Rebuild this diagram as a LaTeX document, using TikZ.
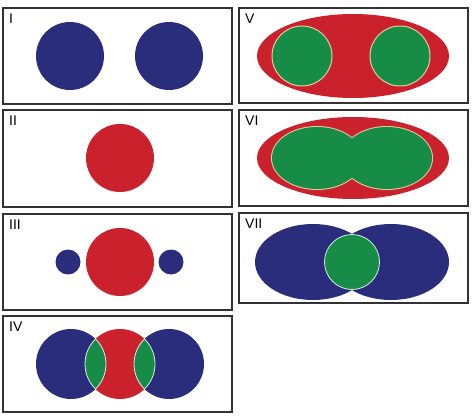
\documentclass[tikz,border=0pt]{standalone}
\usepackage{fontspec}
\setmainfont{Liberation Sans}
\usepackage{xcolor}
\usepackage{tikz}
\definecolor{cellblue}{RGB}{42,44,124}
\definecolor{cellred}{RGB}{203,33,45}
\definecolor{cellgreen}{RGB}{22,140,70}
\definecolor{rimtan}{RGB}{222,206,160}
\definecolor{rimpale}{RGB}{215,240,225}
\tikzset{
  frame/.style={draw=black!80, line width=1.6pt},
  tag/.style={anchor=north west, inner sep=0pt, font=\fontsize{14}{16}\selectfont},
  bluecell/.style={fill=cellblue},
  redcell/.style={fill=cellred},
  greencell/.style={fill=cellgreen},
  tanrim/.style={draw=rimtan, line width=1pt},
  palerim/.style={draw=rimpale, line width=0.8pt}
}
\newcommand{\Panel}[6]{% #1=name, #2=label, #3,#4=top left, #5,#6=bottom right
  \draw[frame] (#3,#4) rectangle (#5,#6);
  \node[tag] (#1) at ({#3+6},{#4+6}) {#2};
}

\begin{document}
\begin{tikzpicture}[x=1pt, y=-1pt]
  \useasboundingbox (0,0) rectangle (474,417);
  % Frames and numerals
  \Panel{pI}{I}{3}{8}{232}{104}
  \Panel{pII}{II}{3}{110}{232}{207}
  \Panel{pIII}{III}{3}{214}{232}{310}
  \Panel{pIV}{IV}{3}{316}{232}{412}
  \Panel{pV}{V}{239}{8}{468}{103}
  \Panel{pVI}{VI}{239}{110}{468}{206}
  \Panel{pVII}{VII}{239}{213}{468}{303}
  % I: two blue
  \fill[bluecell] (70,56) circle (34);
  \fill[bluecell] (169,56) circle (34);
  % II: one red
  \fill[redcell] (120,158) circle (34);
  % III: red with two small blue
  \fill[bluecell] (68,262) circle (12.5);
  \fill[bluecell] (171,262) circle (12.5);
  \fill[redcell] (120,262) circle (34);
  % IV: overlapping, green lenses
  \fill[bluecell] (71,364) circle (35);
  \fill[bluecell] (169,364) circle (35);
  \fill[redcell] (120,364) circle (35);
  \foreach \cx in {71,169}{
    \begin{scope}
      \clip (\cx,364) circle (35);
      \fill[greencell] (120,364) circle (35);
      \draw[palerim] (120,364) circle (35);
    \end{scope}
    \begin{scope}
      \clip (120,364) circle (35);
      \draw[palerim] (\cx,364) circle (35);
    \end{scope}
  }
  % V: red ellipse, two green
  \fill[redcell] (353,56) ellipse (96 and 42);
  \filldraw[greencell, tanrim] (302,56) circle (30);
  \filldraw[greencell, tanrim] (400,56) circle (30);
  % VI: red ellipse, fused green
  \fill[redcell] (353,158) ellipse (96 and 41);
  \draw[draw=rimtan, line width=2pt] (317,158) ellipse (45 and 31);
  \draw[draw=rimtan, line width=2pt] (387,158) ellipse (45 and 31);
  \fill[greencell] (317,158) ellipse (45 and 31);
  \fill[greencell] (387,158) ellipse (45 and 31);
  % VII: fused blue, green core
  \fill[bluecell] (313,262) ellipse (58 and 38);
  \fill[bluecell] (391,262) ellipse (58 and 38);
  \filldraw[greencell, palerim] (352,262) circle (27.5);
\end{tikzpicture}
\end{document}
